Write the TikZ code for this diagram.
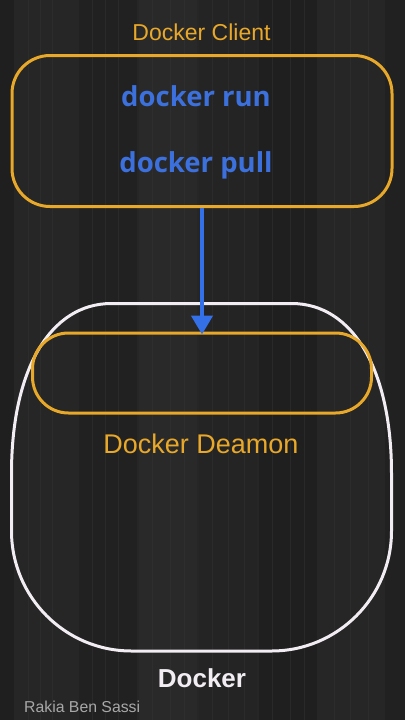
\documentclass[tikz,border=0pt]{standalone}
\usepackage{fontspec}
\setmainfont{Liberation Sans}
\newfontfamily\cmdfont{Open Sans}
\usetikzlibrary{arrows.meta}
\definecolor{bgbase}{HTML}{242424}
\definecolor{dkorange}{HTML}{E8A82A}
\definecolor{cmdblue}{HTML}{3C70DC}
\definecolor{arrowblue}{HTML}{3470E8}
\definecolor{boxwhite}{HTML}{F2EDF2}
\definecolor{signgray}{HTML}{A8A8A8}
\tikzset{
  orangebox/.style={draw=dkorange, line width=3pt, rounded corners=#1, inner sep=0pt},
  whiteline/.style={draw=boxwhite, line width=3pt},
  label/.style={inner sep=0pt, anchor=base},
  flowarrow/.style={draw=arrowblue, line width=4.5pt, -{Triangle[length=19pt,width=21pt]}},
}
\begin{document}
\begin{tikzpicture}[x=1pt,y=-1pt]
\useasboundingbox (0,0) rectangle (405,720);
\fill[bgbase] (0,0) rectangle (405,720);
% wood planks
\foreach \a/\b/\s in {0/15/12, 15/78/15, 78/138/13, 138/198/16, 198/258/14, 258/318/12, 318/384/15, 384/405/13}
  \fill[white!\s!black] (\a,0) rectangle (\b,720);
\foreach \x in {15,78,138,198,258,318,384}
  \draw[black!85, line width=1.3pt] (\x,0) -- (\x,720);
\foreach \x in {28,40,52,92,105,118,152,170,184,212,228,244,272,290,304,334,350,368}
  \draw[white!20!black, line width=0.5pt, opacity=0.5] (\x,0) -- (\x,720);

% Docker container outline (elliptical corners)
\draw[whiteline]
  (11.5,473.5) .. controls (11.5,370) and (50,303.5) .. (111.5,303.5)
  -- (291.5,303.5) .. controls (353,303.5) and (391.5,370) .. (391.5,473.5)
  -- (391.5,531) .. controls (391.5,597.2) and (337.7,651) .. (271.5,651)
  -- (131.5,651) .. controls (65.3,651) and (11.5,597.2) .. (11.5,531)
  -- cycle;

% boxes
\node[orangebox=38pt, minimum width=380pt, minimum height=151pt] (client) at (202,131) {};
\node[orangebox=36pt, minimum width=339pt, minimum height=80pt] (daemon) at (202,373) {};

% texts
\node[label, text=dkorange, font=\fontsize{23}{26}\selectfont] (clientlbl) at (201.5,40) {Docker Client};
\node[label, text=cmdblue, font=\cmdfont\bfseries\fontsize{27.5}{30}\selectfont] (run) at (196,106) {docker run};
\node[label, text=cmdblue, font=\cmdfont\bfseries\fontsize{27.5}{30}\selectfont] (pull) at (196,172) {docker pull};
\node[label, text=dkorange, font=\fontsize{27}{30}\selectfont] (daemonlbl) at (201,453) {Docker Deamon};
\node[label, text=boxwhite, font=\bfseries\fontsize{26}{29}\selectfont] (dockerlbl) at (202,687) {Docker};
\node[label, anchor=base west, text=signgray, font=\fontsize{15.8}{18}\selectfont] (sign) at (24,712) {Rakia Ben Sassi};

% arrow
\draw[flowarrow] (client.south) -- ([yshift=-3pt]daemon.north);
\end{tikzpicture}
\end{document}
